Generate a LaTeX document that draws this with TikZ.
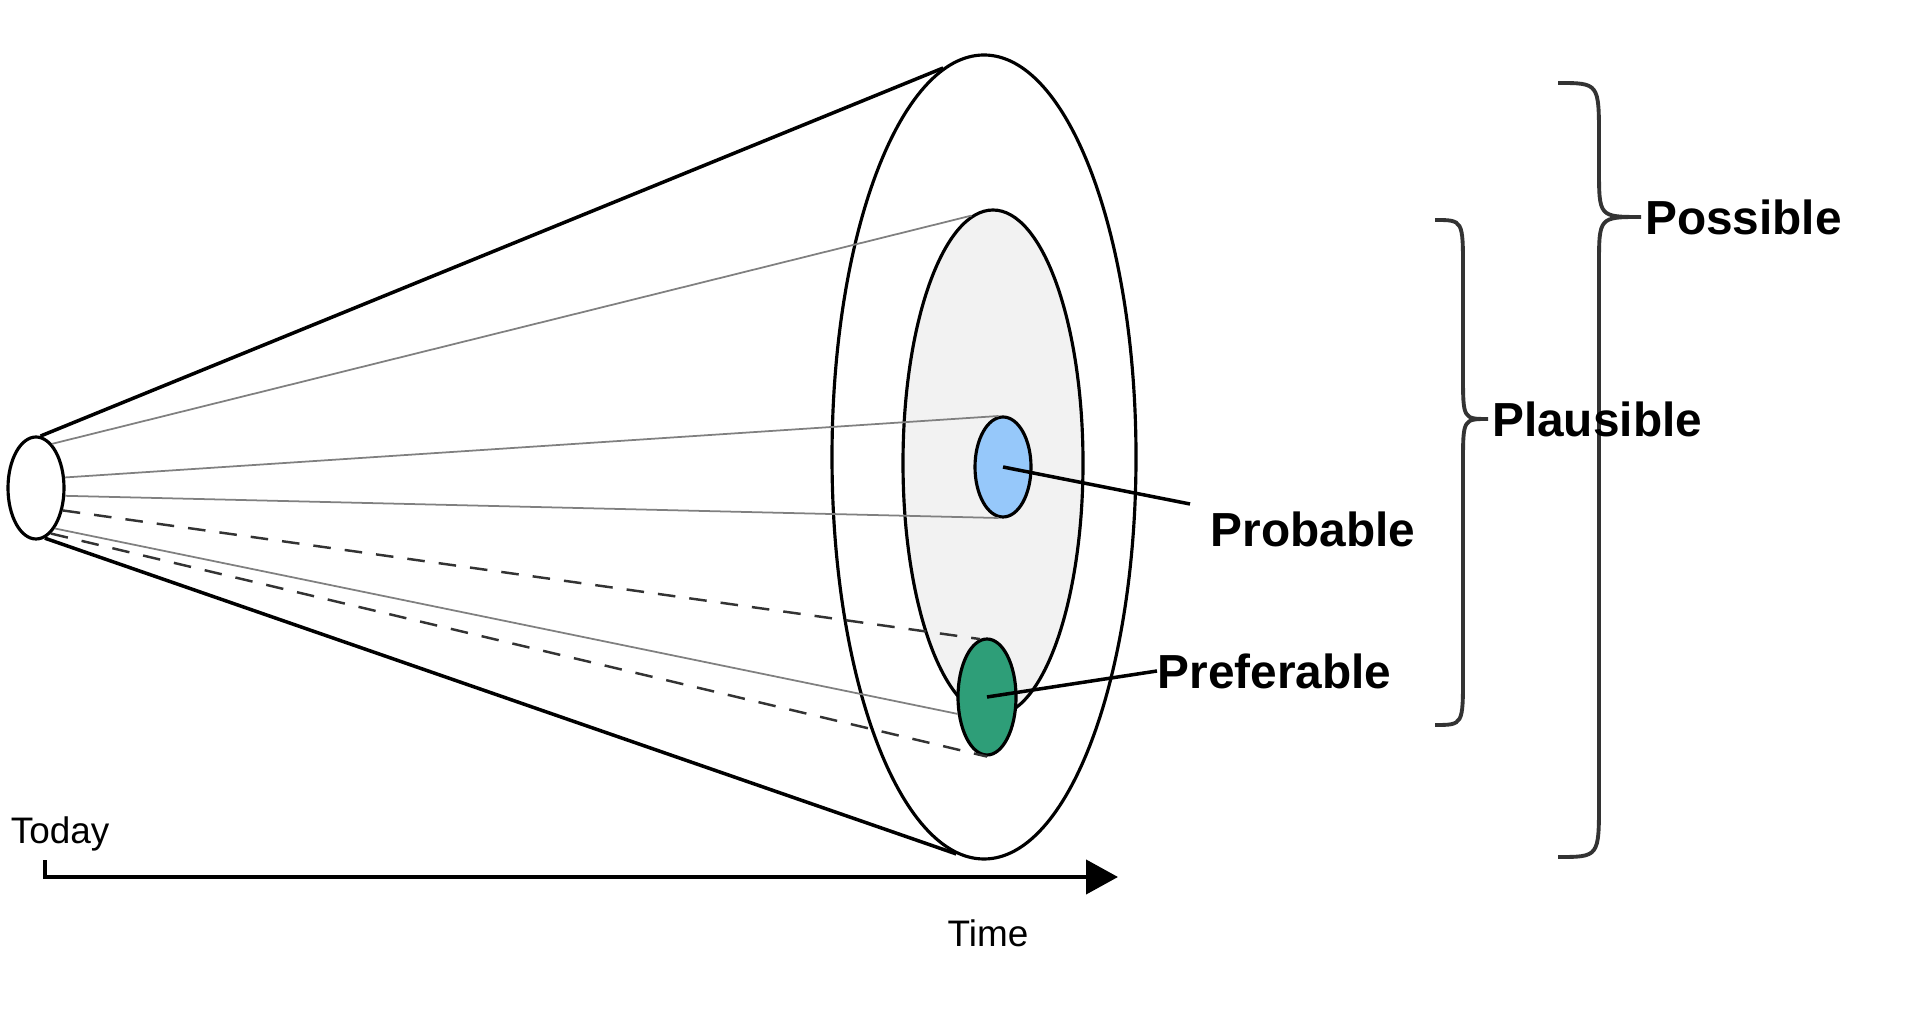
\documentclass[tikz,border=0pt]{standalone}
\usepackage{fontspec}
\setmainfont{Liberation Sans}
\usepackage{xcolor}
\usepackage{tikz}
\usetikzlibrary{shapes.geometric, arrows.meta, positioning}
\definecolor{probblue}{HTML}{96C8FA}
\definecolor{prefgreen}{HTML}{2E9E78}
\definecolor{coneshade}{HTML}{F2F2F2}
\definecolor{bracegray}{HTML}{333333}
\tikzset{
  rim/.style={ellipse, draw=black, line width=0.9pt, inner sep=0pt},
  ray/.style={draw=black!50, line width=0.5pt},
  raydash/.style={draw=black!80, line width=0.7pt, dash pattern=on 5pt off 4pt},
  coneedge/.style={draw=black, line width=1pt},
  bracket/.style={draw=bracegray, line width=1.1pt},
  lbl/.style={font=\fontsize{13.6}{16}\selectfont\bfseries, inner sep=0pt},
  axlbl/.style={font=\fontsize{10.5}{12}\selectfont, inner sep=0pt}
}

\begin{document}
\begin{tikzpicture}
    \useasboundingbox (0,0) rectangle (19.2,10.19);

    \node[rim, fill=white, minimum width=3.04cm, minimum height=8.04cm] (outerrim) at (9.84,5.62) {};
    \node[rim, fill=coneshade, minimum width=1.80cm, minimum height=5.06cm] (innerrim) at (9.93,5.56) {};
    \node[rim, fill=white, minimum width=0.56cm, minimum height=1.02cm] (todayrim) at (0.36,5.31) {};
    \node[rim, fill=probblue, minimum width=0.56cm, minimum height=1.00cm] (probdot) at (10.03,5.52) {};
    \node[rim, fill=prefgreen, minimum width=0.58cm, minimum height=1.16cm] (prefdot) at (9.87,3.22) {};

    \draw[coneedge] (todayrim.85) -- (outerrim.96);
    \draw[coneedge] (todayrim.-80) -- (outerrim.-94);
    \draw[ray] (todayrim.70) -- (innerrim.95);
    \draw[ray] (todayrim.20) -- (probdot.95);
    \draw[ray] (todayrim.-15) -- (probdot.-95);
    \draw[raydash] (todayrim.-40) -- (prefdot.97);
    \draw[ray] (todayrim.-65) -- (prefdot.210);
    \draw[raydash] (todayrim.-72) -- (prefdot.-90);

    \coordinate (probend) at (11.90,5.15);
    \draw[coneedge] (probdot.center) -- (probend);
    \node[lbl, anchor=west] (probable) at (12.10,4.90) {Probable};
    \node[lbl, anchor=west] (preferable) at (11.57,3.48) {Preferable};
    \draw[coneedge] (prefdot.center) -- (preferable.west);

    \coordinate (plaustip) at (14.88,6.00);
    \draw[bracket] (14.35,7.99) .. controls (14.63,7.99) .. (14.63,7.49) -- (14.63,6.45)
        .. controls (14.63,6.00) .. (plaustip) .. controls (14.63,6.00) .. (14.63,5.55)
        -- (14.63,3.44) .. controls (14.63,2.94) .. (14.35,2.94);
    \coordinate (posstip) at (16.41,8.02);
    \draw[bracket] (15.58,9.36) .. controls (15.99,9.36) .. (15.99,8.80) -- (15.99,8.50)
        .. controls (15.99,8.02) .. (posstip) .. controls (15.99,8.02) .. (15.99,7.54)
        -- (15.99,2.18) .. controls (15.99,1.62) .. (15.58,1.62);
    \node[lbl, right=1pt of plaustip] (plausible) {Plausible};
    \node[lbl, right=1pt of posstip] (possible) {Possible};

    \coordinate (axstart) at (0.45,1.59);
    \coordinate (axend) at (11.18,1.42);
    \draw[line width=1.2pt, -{Triangle[length=0.32cm, width=0.34cm]}] (axstart) |- (axend);
    \node[axlbl] (todaylbl) at (0.60,1.85) {Today};
    \node[axlbl] (timelbl) at (9.88,0.86) {Time};
\end{tikzpicture}
\end{document}
